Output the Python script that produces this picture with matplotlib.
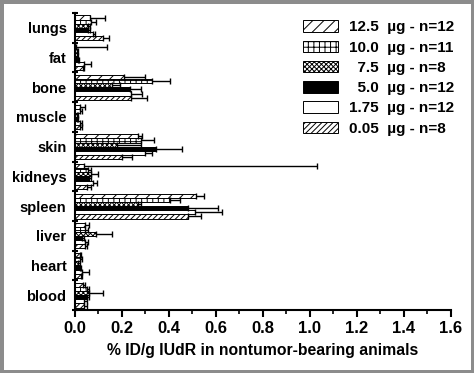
import numpy as np
import matplotlib.pyplot as plt
from matplotlib.ticker import MultipleLocator, FixedLocator

plt.rcParams['font.family'] = ['Liberation Sans', 'DejaVu Sans']
plt.rcParams['font.weight'] = 'bold'
plt.rcParams['hatch.linewidth'] = 0.7

# 장기 (위에서 아래로)
organs = ['lungs', 'fat', 'bone', 'muscle', 'skin', 'kidneys', 'spleen', 'liver', 'heart', 'blood']

# 용량별 평균 %ID/g 및 오차 (+SD)
dose_labels = ['12.5  µg - n=12', '10.0  µg - n=11', '  7.5  µg - n=8',
               '  5.0  µg - n=12', '1.75  µg - n=12', '0.05  µg - n=8']

val_125 = [0.064, 0.005, 0.21, 0.02, 0.27, 0.04, 0.517, 0.043, 0.02, 0.035]
err_125 = [0.064, 0.13, 0.09, 0.022, 0.014, 0.99, 0.033, 0.017, 0.005, 0.01]
val_100 = [0.07, 0.01, 0.33, 0.02, 0.28, 0.055, 0.404, 0.045, 0.02, 0.05]
err_100 = [0.02, 0.005, 0.075, 0.01, 0.056, 0.015, 0.043, 0.01, 0.01, 0.012]
val_75 = [0.055, 0.01, 0.16, 0.01, 0.18, 0.07, 0.27, 0.09, 0.015, 0.06]
err_75 = [0.01, 0.004, 0.03, 0.005, 0.10, 0.03, 0.01, 0.07, 0.005, 0.06]
val_50 = [0.055, 0.013, 0.234, 0.01, 0.347, 0.06, 0.482, 0.03, 0.02, 0.05]
err_50 = [0.008, 0.004, 0.046, 0.005, 0.107, 0.01, 0.128, 0.008, 0.005, 0.01]
val_175 = [0.075, 0.038, 0.24, 0.02, 0.30, 0.077, 0.51, 0.045, 0.03, 0.04]
err_175 = [0.01, 0.029, 0.045, 0.01, 0.03, 0.015, 0.117, 0.01, 0.03, 0.01]
val_005 = [0.118, 0.035, 0.24, 0.02, 0.20, 0.05, 0.482, 0.045, 0.025, 0.04]
err_005 = [0.027, 0.005, 0.066, 0.01, 0.045, 0.02, 0.055, 0.008, 0.005, 0.01]

values = [val_125, val_100, val_75, val_50, val_175, val_005]
errors = [err_125, err_100, err_75, err_50, err_175, err_005]
fills = ['white', 'white', 'white', 'black', 'white', 'white']
hatches = ['///', '+++', 'xxxxxxx', None, None, '//////']

fig = plt.figure(figsize=(4.74, 3.73), dpi=100)
fig.patch.set_edgecolor('#8c8c8c')
fig.patch.set_linewidth(5)
ax = fig.add_axes([0.158, 0.169, 0.793, 0.796])

y = np.arange(len(organs))
h = 0.14
for i in range(6):
    pos = y - 2.5 * h + i * h
    ax.barh(pos, values[i], height=h, color=fills[i], edgecolor='black',
            hatch=hatches[i], linewidth=0.7, label=dose_labels[i],
            xerr=[np.zeros(len(organs)), errors[i]],
            error_kw=dict(ecolor='black', elinewidth=1, capsize=2, capthick=1))

ax.set_xlim(0, 1.6)
ax.set_ylim(9.5, -0.5)
ax.set_yticks(y)
ax.set_yticklabels(organs, fontsize=10.5, fontweight='bold')
ax.yaxis.set_minor_locator(FixedLocator(np.arange(-0.5, 10, 1)))
ax.tick_params(axis='y', which='major', length=0, pad=6)
ax.tick_params(axis='y', which='minor', length=5, width=1.5, direction='inout')
ax.xaxis.set_major_locator(MultipleLocator(0.2))
ax.xaxis.set_minor_locator(MultipleLocator(0.1))
ax.tick_params(axis='x', which='major', length=5, width=1.5, labelsize=12, pad=3)
ax.tick_params(axis='x', which='minor', length=3, width=1.2)
for lbl in ax.get_xticklabels():
    lbl.set_fontweight('bold')
ax.set_xlabel('% ID/g IUdR in nontumor-bearing animals', fontsize=11.3, fontweight='bold', labelpad=5)

for s in ['top', 'right']:
    ax.spines[s].set_visible(False)
for s in ['left', 'bottom']:
    ax.spines[s].set_linewidth(1.5)

ax.legend(loc='upper right', bbox_to_anchor=(1.045, 1.022), frameon=False,
          prop=dict(size=11, weight='bold'), handlelength=2.3, handleheight=0.8,
          labelspacing=0.4, handletextpad=0.7)

plt.savefig('out.png', dpi=100, edgecolor=fig.get_edgecolor())
